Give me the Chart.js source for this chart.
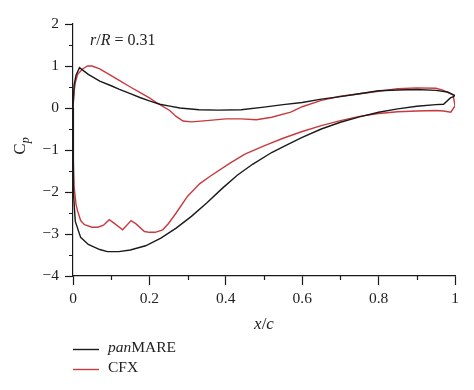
<!DOCTYPE html>
<html>
<head>
<meta charset="utf-8">
<script src="https://cdn.jsdelivr.net/npm/chart.js@4/dist/chart.umd.min.js"></script>
<style>
html,body{margin:0;padding:0;background:#fff;}
#wrap{width:474px;height:390px;}
</style>
</head>
<body>
<div id="wrap"><canvas id="c" width="474" height="390"></canvas></div>
<script>
// panMARE: closed loop, trailing edge -> upper (pressure) side -> leading edge -> lower (suction) side -> trailing edge
const panmareX = [1.0, 0.98, 0.95, 0.9, 0.85, 0.8, 0.75, 0.7, 0.65, 0.6, 0.55, 0.5, 0.44, 0.38, 0.33, 0.28, 0.25, 0.227, 0.2, 0.175, 0.15, 0.12, 0.1, 0.07, 0.04, 0.017, 0.008, 0.003, 0.0,
  0.0, 0.002, 0.006, 0.02, 0.04, 0.07, 0.09, 0.12, 0.15, 0.19, 0.23, 0.27, 0.31, 0.35, 0.39, 0.43, 0.47, 0.52, 0.56, 0.6, 0.65, 0.7, 0.75, 0.8, 0.85, 0.9, 0.95, 0.97, 0.988, 0.996, 1.0];
const panmareCp = [0.30, 0.38, 0.42, 0.44, 0.43, 0.41, 0.34, 0.27, 0.21, 0.13, 0.08, 0.02, -0.04, -0.05, -0.04, 0.0, 0.05, 0.09, 0.17, 0.25, 0.34, 0.45, 0.53, 0.64, 0.80, 0.96, 0.78, 0.55, 0.0,
  -1.0, -2.0, -2.7, -3.08, -3.25, -3.37, -3.42, -3.42, -3.38, -3.28, -3.10, -2.86, -2.58, -2.26, -1.92, -1.60, -1.34, -1.06, -0.88, -0.70, -0.50, -0.34, -0.21, -0.10, -0.02, 0.04, 0.08, 0.09, 0.24, 0.27, 0.30];

// CFX: same ordering
const cfxX = [0.995, 0.97, 0.95, 0.9, 0.85, 0.8, 0.75, 0.7, 0.65, 0.6, 0.57, 0.52, 0.48, 0.44, 0.4, 0.35, 0.31, 0.288, 0.27, 0.253, 0.22, 0.2, 0.175, 0.15, 0.122, 0.1, 0.07, 0.05, 0.038, 0.025, 0.012, 0.006, 0.003, 0.0,
  0.0, 0.003, 0.008, 0.012, 0.02, 0.03, 0.05, 0.065, 0.08, 0.095, 0.11, 0.13, 0.152, 0.165, 0.187, 0.2, 0.215, 0.235, 0.25, 0.27, 0.3, 0.332, 0.36, 0.41, 0.45, 0.5, 0.55, 0.6, 0.65, 0.7, 0.75, 0.8, 0.85, 0.9, 0.95, 0.97, 0.989, 1.0, 0.995];
const cfxCp = [0.31, 0.42, 0.47, 0.48, 0.46, 0.40, 0.34, 0.28, 0.18, 0.03, -0.10, -0.22, -0.28, -0.26, -0.26, -0.30, -0.33, -0.31, -0.20, -0.06, 0.12, 0.24, 0.37, 0.50, 0.65, 0.77, 0.93, 1.0, 1.0, 0.93, 0.80, 0.60, 0.41, 0.0,
  -1.0, -1.88, -2.3, -2.45, -2.68, -2.78, -2.84, -2.84, -2.79, -2.66, -2.76, -2.90, -2.68, -2.76, -2.94, -2.96, -2.96, -2.90, -2.75, -2.50, -2.10, -1.80, -1.62, -1.32, -1.10, -0.90, -0.72, -0.56, -0.42, -0.30, -0.20, -0.13, -0.09, -0.07, -0.06, -0.07, -0.10, 0.05, 0.31];

const xTicks = [0, 0.2, 0.4, 0.6, 0.8, 1];
const yTicks = [-4, -3, -2, -1, 0, 1, 2];
const xMinor = [0.1, 0.3, 0.5, 0.7, 0.9];
const yMinor = [-3.5, -2.5, -1.5, -0.5, 0.5, 1.5];
const seriesNames = ['panMARE', 'CFX'];

const BLACK = '#1a1a1a';
const RED = '#c83a3f';
const SERIF = '"Liberation Serif", "DejaVu Serif", serif';

function toPts(xs, ys) { return xs.map((x, i) => ({x: x, y: ys[i]})); }

const decor = {
  id: 'decor',
  afterDraw(chart) {
    const ctx = chart.ctx;
    const xs = chart.scales.x, ys = chart.scales.y;
    ctx.save();
    // minor ticks
    ctx.strokeStyle = BLACK;
    ctx.lineWidth = 1.2;
    ctx.beginPath();
    xMinor.forEach(v => {
      const p = Math.round(xs.getPixelForValue(v)) + 0.5;
      ctx.moveTo(p, xs.top); ctx.lineTo(p, xs.top + 4);
    });
    yMinor.forEach(v => {
      const p = Math.round(ys.getPixelForValue(v)) + 0.5;
      ctx.moveTo(ys.right, p); ctx.lineTo(ys.right - 4, p);
    });
    ctx.stroke();

    ctx.fillStyle = '#222';
    ctx.textBaseline = 'middle';
    // annotation r/R = 0.31
    let x = 90, y = 41;
    const parts = [['r', 'italic'], ['/', ''], ['R', 'italic'], [' = 0.31', '']];
    parts.forEach(([t, st]) => {
      ctx.font = (st ? st + ' ' : '') + '16px ' + SERIF;
      ctx.textAlign = 'left';
      ctx.fillText(t, x, y);
      x += ctx.measureText(t).width;
    });

    // x title
    const xt = [['x', 'italic'], ['/', ''], ['c', 'italic']];
    let tw = 0;
    xt.forEach(([t, st]) => { ctx.font = (st ? st + ' ' : '') + '17px ' + SERIF; tw += ctx.measureText(t).width; });
    x = (chart.chartArea.left + chart.chartArea.right) / 2 - tw / 2;
    y = 325;
    xt.forEach(([t, st]) => {
      ctx.font = (st ? st + ' ' : '') + '17px ' + SERIF;
      ctx.textAlign = 'left';
      ctx.fillText(t, x, y);
      x += ctx.measureText(t).width;
    });

    // y title C_p (rotated)
    ctx.save();
    ctx.translate(21, 146);
    ctx.rotate(-Math.PI / 2);
    ctx.font = '17px ' + SERIF;
    const cw = ctx.measureText('C').width;
    ctx.font = 'italic 12px ' + SERIF;
    const pw = ctx.measureText('p').width;
    let sx = -(cw + pw) / 2;
    ctx.font = '17px ' + SERIF;
    ctx.fillText('C', sx, 0);
    ctx.font = 'italic 12px ' + SERIF;
    ctx.fillText('p', sx + cw, 5);
    ctx.restore();

    // legend
    const ds = chart.data.datasets;
    const rows = [349, 369];
    ds.forEach((d, i) => {
      const yy = rows[i] + 0.5;
      ctx.strokeStyle = d.borderColor;
      ctx.lineWidth = 1.4;
      ctx.beginPath();
      ctx.moveTo(73, yy); ctx.lineTo(99, yy);
      ctx.stroke();
      ctx.fillStyle = '#222';
      let lx = 108;
      const label = d.label;
      if (label === 'panMARE') {
        ctx.font = 'italic 15.5px ' + SERIF;
        ctx.fillText('pan', lx, rows[i] - 1);
        lx += ctx.measureText('pan').width;
        ctx.font = '15.5px ' + SERIF;
        ctx.fillText('MARE', lx, rows[i] - 1);
      } else {
        ctx.font = '15.5px ' + SERIF;
        ctx.fillText(label, lx, rows[i] - 1);
      }
    });
    ctx.restore();
  }
};

function fmt(v) {
  const n = Number(Number(v).toFixed(1));
  return String(n).replace('-', '\u2212');
}

new Chart(document.getElementById('c'), {
  type: 'scatter',
  data: {
    datasets: [
      { label: seriesNames[0], data: toPts(panmareX, panmareCp), showLine: true, borderColor: BLACK, borderWidth: 1.4, pointRadius: 0, tension: 0, fill: false },
      { label: seriesNames[1], data: toPts(cfxX, cfxCp), showLine: true, borderColor: RED, borderWidth: 1.4, pointRadius: 0, tension: 0, fill: false }
    ]
  },
  options: {
    responsive: false,
    animation: false,
    devicePixelRatio: 1,
    layout: { padding: { left: 0, top: 24, right: 19, bottom: 0 } },
    plugins: { legend: { display: false }, tooltip: { enabled: false } },
    scales: {
      x: {
        type: 'linear', min: 0, max: 1,
        afterFit: s => { s.height = 114; },
        afterBuildTicks: s => { s.ticks = xTicks.map(v => ({value: v})); },
        ticks: { callback: fmt, color: '#222', font: { family: SERIF, size: 15.5 }, padding: 5, maxRotation: 0 },
        grid: { drawOnChartArea: false, drawTicks: true, tickLength: 9, tickColor: BLACK, tickWidth: 1.2 },
        border: { display: true, color: BLACK, width: 1.2 }
      },
      y: {
        type: 'linear', min: -4, max: 2,
        afterFit: s => { s.width = 73; },
        afterBuildTicks: s => { s.ticks = yTicks.map(v => ({value: v})); },
        ticks: { callback: fmt, color: '#222', font: { family: SERIF, size: 15.5 }, padding: 6 },
        grid: { drawOnChartArea: false, drawTicks: true, tickLength: 8, tickColor: BLACK, tickWidth: 1.2 },
        border: { display: true, color: BLACK, width: 1.2 }
      }
    }
  },
  plugins: [decor]
});
</script>
</body>
</html>
